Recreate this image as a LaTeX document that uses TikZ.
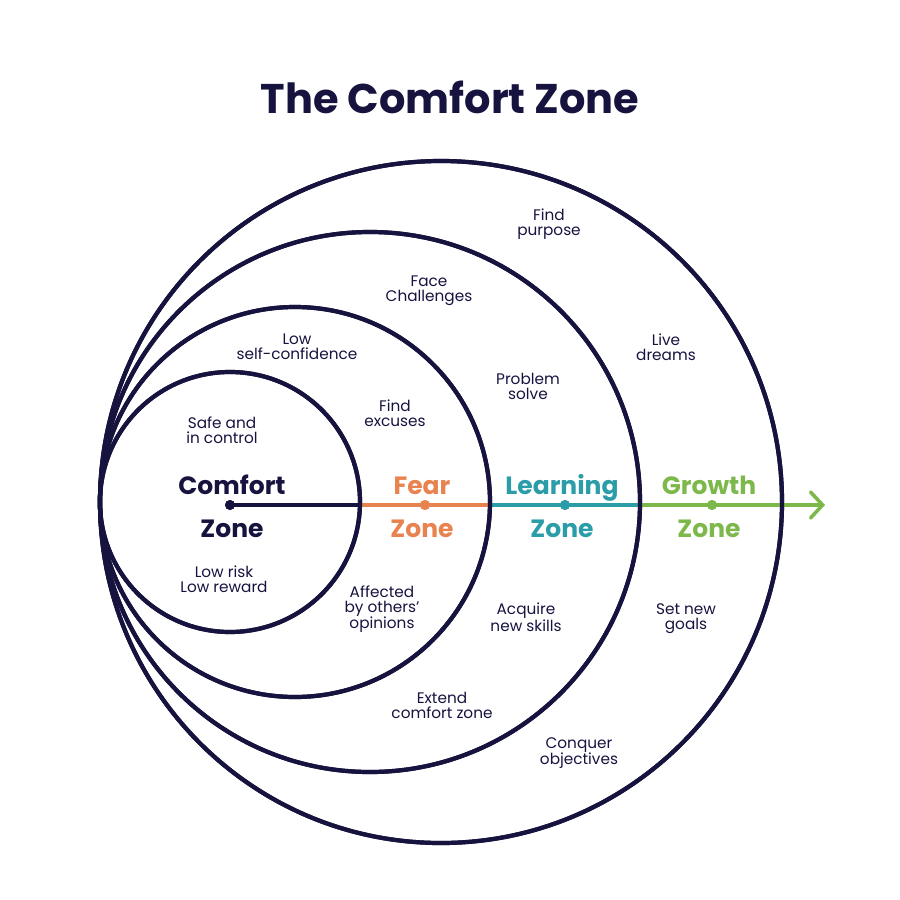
\documentclass[tikz,border=0pt]{standalone}
\usepackage{fontspec}
\setmainfont{Poppins}
\usetikzlibrary{arrows.meta}
\definecolor{navy}{HTML}{16133F}
\definecolor{fearc}{HTML}{E8834F}
\definecolor{learnc}{HTML}{2A9DA8}
\definecolor{growc}{HTML}{7DB84A}
\tikzset{
  zone/.style={circle, draw=navy, line width=4.2pt, inner sep=0pt, outer sep=0pt},
  lbl/.style={align=center, text=navy, font=\fontsize{15.3}{15}\selectfont, inner sep=0pt},
  zlbl/.style={font=\fontsize{25}{27}\bfseries\selectfont, inner sep=0pt, anchor=base},
  seg/.style={line width=3.6pt},
  dotc/.style={circle, inner sep=0pt, minimum size=10pt},
}
\begin{document}
\begin{tikzpicture}[x=1pt,y=-1pt]
\useasboundingbox (0,0) rectangle (900,900);
\node[text=navy, font=\fontsize{41.5}{46}\bfseries\selectfont] (title) at (450,97) {The Comfort Zone};
% circles
\node[zone, minimum size=682pt] (growth) at (441,502) {};
\node[zone, minimum size=540pt] (learning) at (370,502) {};
\node[zone, minimum size=390pt] (fear) at (295,502) {};
\node[zone, minimum size=260pt] (comfort) at (230,502) {};
% axis
\coordinate (p1) at (360,505);
\coordinate (p2) at (490,505);
\coordinate (p3) at (640,505);
\coordinate (pend) at (825,505);
\node[dotc, fill=navy] (d1) at (230,505) {};
\node[dotc, fill=fearc] (d2) at (425,505) {};
\node[dotc, fill=learnc] (d3) at (565,505) {};
\node[dotc, fill=growc] (d4) at (712,505) {};
\draw[seg, navy] (d1.center) -- (p1);
\draw[seg, fearc] (p1) -- (p2);
\draw[seg, learnc] (p2) -- (p3);
\draw[seg, growc, -{Straight Barb[length=12pt,width=26pt,line cap=round]}] (p3) -- (pend);
\node[dotc, fill=navy] at (d1) {};
\node[dotc, fill=fearc] at (d2) {};
\node[dotc, fill=learnc] at (d3) {};
\node[dotc, fill=growc] at (d4) {};
% redraw circle borders over the axis
\node[zone, minimum size=682pt] at (441,502) {};
\node[zone, minimum size=540pt] at (370,502) {};
\node[zone, minimum size=390pt] at (295,502) {};
\node[zone, minimum size=260pt] at (230,502) {};
% zone labels
\node[zlbl, text=navy] (zc1) at (232,494) {Comfort};
\node[zlbl, text=navy] (zc2) at (232,537) {Zone};
\node[zlbl, text=fearc] (zf1) at (422,494) {Fear};
\node[zlbl, text=fearc] (zf2) at (422,537) {Zone};
\node[zlbl, text=learnc] (zl1) at (562,494) {Learning};
\node[zlbl, text=learnc] (zl2) at (562,537) {Zone};
\node[zlbl, text=growc] (zg1) at (709,494) {Growth};
\node[zlbl, text=growc] (zg2) at (709,537) {Zone};
% text labels
\node[lbl] (t1) at (549,224) {Find\\purpose};
\node[lbl] (t2) at (429,291) {Face\\Challenges};
\node[lbl] (t3) at (297,347) {Low\\self-confidence};
\node[lbl] (t4) at (666,347) {Live\\dreams};
\node[lbl] (t5) at (528,386) {Problem\\solve};
\node[lbl] (t6) at (395,413) {Find\\excuses};
\node[lbl] (t7) at (222,430) {Safe and\\in control};
\node[lbl] (t8) at (224,579) {Low risk\\Low reward};
\node[lbl] (t9) at (382,609) {Affected\\by others’\\opinions};
\node[lbl] (t10) at (526,617) {Acquire\\new skills};
\node[lbl] (t11) at (686,619) {Set new\\goals};
\node[lbl] (t12) at (442,705) {Extend\\comfort zone};
\node[lbl] (t13) at (579,753) {Conquer\\objectives};
\end{tikzpicture}
\end{document}
